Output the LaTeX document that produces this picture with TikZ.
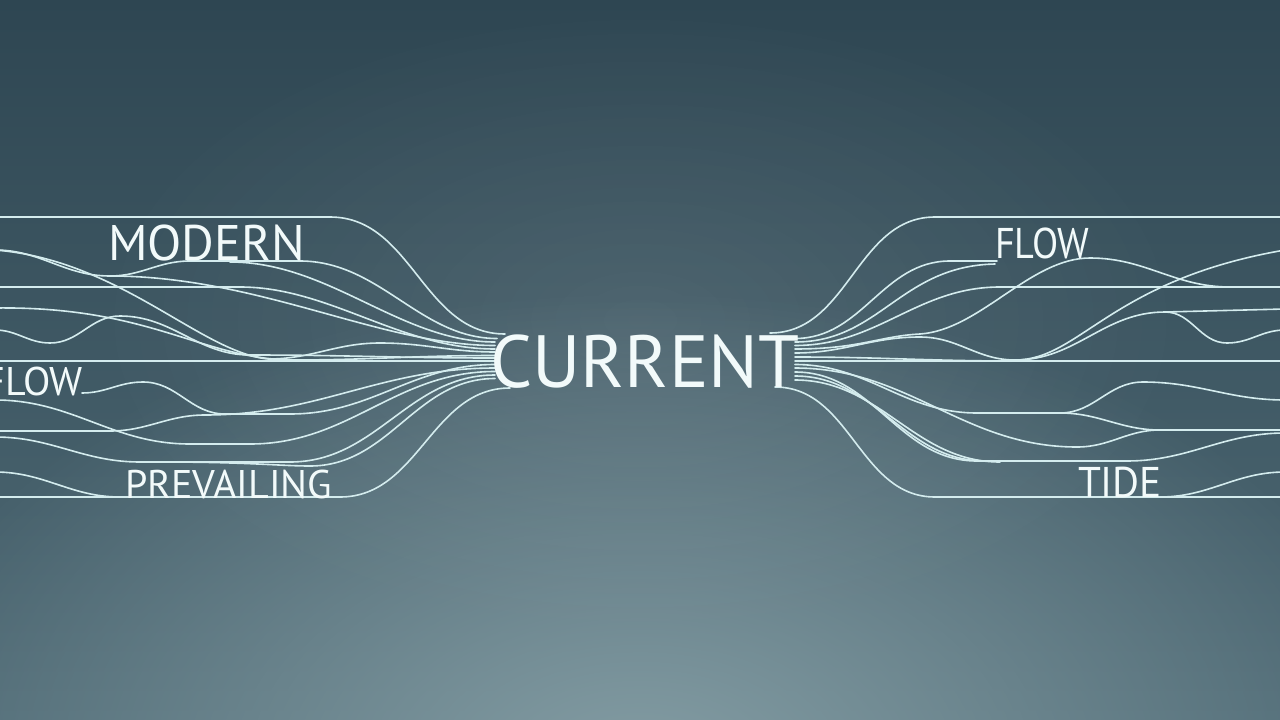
\documentclass[tikz,border=0pt]{standalone}
\usepackage{fontspec}
\setmainfont{PT Sans}
\usetikzlibrary{fadings}
\definecolor{bgtop}{HTML}{2E4652}
\definecolor{bgbot}{HTML}{506B76}
\definecolor{glowc}{HTML}{849DA4}
\definecolor{strandc}{HTML}{D4ECEE}
\definecolor{textc}{HTML}{F2FAFA}
\tikzfading[name=softglow, inner color=transparent!0, outer color=transparent!100]
\begin{document}
\begin{tikzpicture}[x=1pt,y=-1pt,
  strand/.style={draw=strandc,line width=1.6pt,line cap=round},
  word/.style={text=textc,inner sep=0pt,outer sep=0pt}]
\useasboundingbox (0,0) rectangle (1280,720);
\clip (0,0) rectangle (1280,720);
\shade[top color=bgtop,bottom color=bgbot] (0,0) rectangle (1280,720);
\fill[glowc, path fading=softglow] (640,770) ellipse [x radius=780, y radius=480];
\fill[white, opacity=0.09, path fading=softglow] (640,320) ellipse [x radius=560, y radius=320];

% ---- left strands
\draw[strand] (-5,217) -- (330,217) to[out=0,in=180] (505,334);
\draw[strand] (-5,250) .. controls (120,260) and (200,352) .. (268,359) to[out=0,in=180] (380,343) to[out=0,in=180] (495,352);
\draw[strand] (-5,250) to[out=0,in=180] (110,276) to[out=0,in=180] (190,261) -- (300,261) .. controls (380,261) and (420,338.5) .. (497,338.5);
\draw[strand] (230,262) .. controls (330,262) and (400,342) .. (495,342);
\draw[strand] (110,276) .. controls (260,276) and (380,345.5) .. (495,345.5);
\draw[strand] (-5,287) -- (240,287) .. controls (330,287) and (400,349) .. (495,349);
\draw[strand] (-5,308) .. controls (150,306) and (200,358) .. (290,360) to[out=0,in=180] (495,355.5);
\draw[strand] (-5,330) to[out=0,in=180] (50,343) to[out=0,in=180] (120,316) to[out=0,in=180] (250,355) to[out=0,in=180] (495,358);
\draw[strand] (-5,361) -- (495,361);
\draw[strand] (82,393) to[out=0,in=180] (143,382) to[out=0,in=180] (225,414) -- (290,414) to[out=0,in=180] (495,364.5);
\draw[strand] (-5,431) -- (110,431) to[out=0,in=180] (205,415) to[out=0,in=180] (495,368);
\draw[strand] (-5,400) to[out=0,in=180] (190,444) -- (250,444) to[out=0,in=180] (495,371.5);
\draw[strand] (-5,437) to[out=0,in=180] (140,462) -- (290,462) to[out=0,in=180] (495,375);
\draw[strand] (160,462) .. controls (250,462) and (280,466) .. (310,466) to[out=0,in=180] (495,378.5);
\draw[strand] (-5,472) to[out=0,in=180] (120,497);
\draw[strand] (-5,497) -- (340,497) to[out=0,in=180] (510,388);

% ---- right strands
\draw[strand] (770,333) to[out=0,in=180] (935,217) -- (1285,217);
\draw[strand] (795,338.5) to[out=0,in=180] (950,261) -- (997,261);
\draw[strand] (795,342) .. controls (880,342) and (900,266) .. (995,264);
\draw[strand] (795,345.5) to[out=0,in=180] (1000,287) -- (1285,287);
\draw[strand] (795,349) .. controls (860,349) and (880,336) .. (920,334) .. controls (980,330) and (1030,258) .. (1090,258) to[out=0,in=180] (1230,287);
\draw[strand] (795,353) to[out=0,in=180] (920,337) to[out=0,in=180] (1015,360) .. controls (1080,360) and (1110,280) .. (1285,250);
\draw[strand] (795,357) to[out=0,in=180] (1015,361);
\draw[strand] (795,361) -- (1285,361);
\draw[strand] (1015,360) to[out=0,in=180] (1165,312) -- (1285,309);
\draw[strand] (1165,312) to[out=0,in=180] (1227,343) to[out=0,in=180] (1285,330);
\draw[strand] (795,364.5) to[out=0,in=180] (977,413) -- (1060,413) to[out=0,in=180] (1143,382) to[out=0,in=180] (1285,400);
\draw[strand] (1060,413) to[out=0,in=180] (1160,430) -- (1285,430);
\draw[strand] (795,368) to[out=0,in=180] (1077,447) to[out=0,in=180] (1160,430);
\draw[strand] (795,372) to[out=0,in=180] (977,461) -- (1127,461) to[out=0,in=180] (1285,433);
\draw[strand] (795,376) to[out=0,in=180] (985,461);
\draw[strand] (795,380) to[out=0,in=180] (1000,462);
\draw[strand] (775,387) to[out=0,in=180] (935,497) -- (1285,497);
\draw[strand] (1160,497) to[out=0,in=180] (1285,472);

% ---- words
\node[word, font=\fontsize{74}{74}\selectfont, anchor=base] (cur) at (645,387) {CURRENT};
\node[word, font=\fontsize{50}{50}\selectfont, anchor=base west] (modern) at (108,260) {MODERN};
\node[word, font=\fontsize{40}{40}\selectfont, anchor=base east] (flowl) at (83,395) {FLOW};
\node[word, font=\fontsize{40}{40}\selectfont, anchor=base west] (prev) at (125,498) {PREVAILING};
\node[word, font=\fontsize{43}{43}\selectfont, anchor=base west, xscale=0.89] (flowr) at (995,258) {FLOW};
\node[word, font=\fontsize{43}{43}\selectfont, anchor=base west, xscale=0.96] (tide) at (1078,497) {TIDE};
\end{tikzpicture}
\end{document}
